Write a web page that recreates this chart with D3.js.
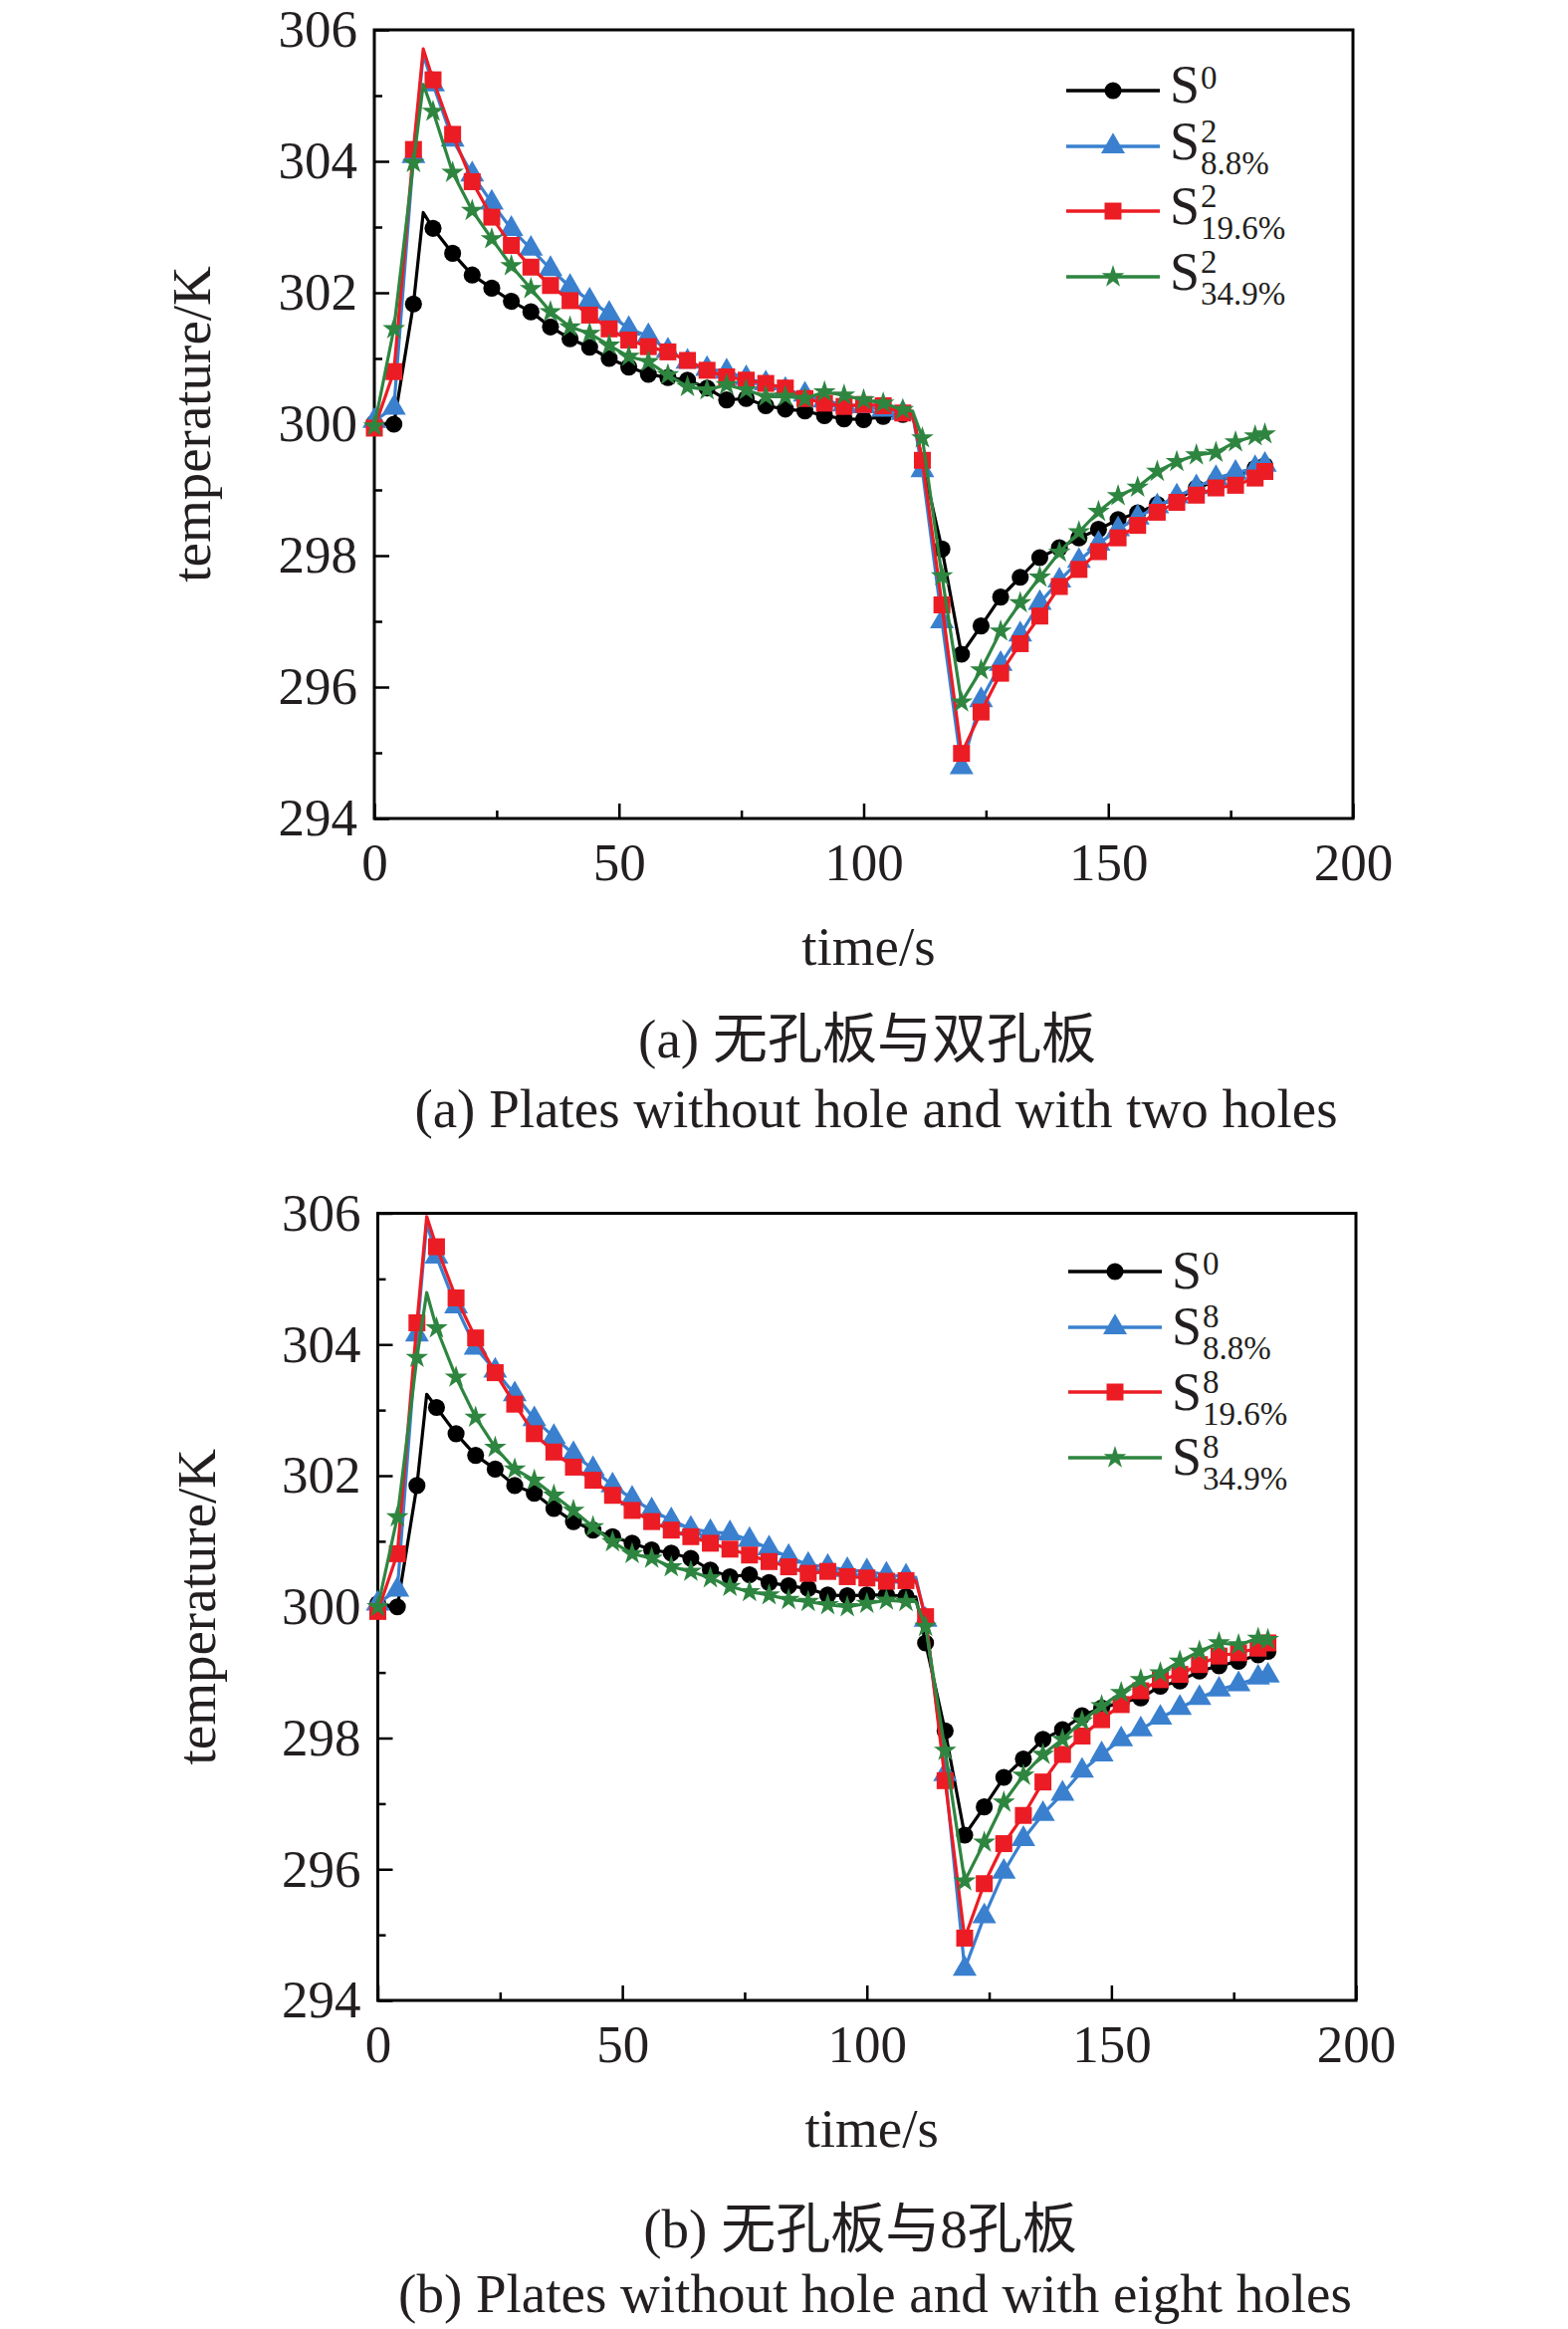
<!DOCTYPE html>
<html>
<head>
<meta charset="utf-8">
<script src="https://cdn.jsdelivr.net/npm/d3@7"></script>
<style>
  body { margin: 0; background: #fff; }
  svg text { font-family: "Liberation Serif", "Times New Roman", "Noto Sans CJK SC", serif; fill: #231f20; }
</style>
</head>
<body>
<svg width="1575" height="2339"></svg>
<script>
// time grid (s); markers sit on the 4 s points and on the last one
var time = [0,4,8,10,12,16,20,24,28,32,36,40,44,48,52,56,60,64,68,72,76,80,84,88,92,96,100,104,108,110,
            112,116,120,124,128,132,136,140,144,148,152,156,160,164,168,172,176,180,182];

// (a) plates without hole / with two holes
var twoHoleS0  = [300.02,300.00,301.83,303.22,302.98,302.60,302.27,302.07,301.87,301.71,301.48,301.30,301.17,301.00,300.87,300.76,300.71,300.67,300.55,300.37,300.39,300.28,300.23,300.20,300.13,300.08,300.07,300.12,300.15,300.16,
                  299.43,298.10,296.50,296.93,297.37,297.67,297.97,298.12,298.27,298.40,298.55,298.65,298.78,298.85,299.03,299.13,299.21,299.33,299.37];
var twoHole88  = [300.05,300.25,304.08,305.62,305.17,304.33,303.80,303.37,302.97,302.67,302.36,302.09,301.88,301.68,301.45,301.34,301.12,300.95,300.84,300.80,300.70,300.62,300.52,300.45,300.36,300.30,300.27,300.22,300.17,300.15,
                  299.30,297.00,294.78,295.80,296.35,296.80,297.28,297.62,297.92,298.18,298.40,298.58,298.75,298.90,299.04,299.18,299.26,299.33,299.38];
var twoHole196 = [299.94,300.80,304.18,305.71,305.24,304.41,303.69,303.15,302.72,302.39,302.11,301.88,301.66,301.45,301.28,301.18,301.10,300.97,300.82,300.72,300.67,300.62,300.55,300.39,300.32,300.27,300.30,300.28,300.17,300.15,
                  299.45,297.25,294.99,295.62,296.21,296.66,297.08,297.53,297.79,298.06,298.27,298.46,298.66,298.81,298.92,299.03,299.07,299.18,299.28];
var twoHole349 = [299.97,301.45,303.98,305.17,304.76,303.83,303.25,302.82,302.41,302.06,301.71,301.48,301.38,301.20,301.03,300.95,300.75,300.57,300.52,300.60,300.52,300.42,300.42,300.39,300.49,300.44,300.37,300.32,300.22,300.20,
                  299.79,297.69,295.77,296.26,296.85,297.28,297.67,298.05,298.36,298.67,298.91,299.04,299.28,299.43,299.53,299.57,299.73,299.82,299.85];

// (b) plates without hole / with eight holes
var eightHoleS0  = [300.05,300.00,301.85,303.24,303.04,302.64,302.31,302.10,301.85,301.73,301.50,301.30,301.17,301.07,300.97,300.87,300.82,300.74,300.56,300.46,300.49,300.37,300.32,300.28,300.18,300.17,300.18,300.18,300.16,300.15,
                    299.45,298.11,296.52,296.95,297.40,297.68,297.98,298.13,298.34,298.46,298.54,298.61,298.79,298.87,299.02,299.10,299.17,299.27,299.32];
var eightHole88  = [300.05,300.26,304.15,305.85,305.34,304.58,303.95,303.60,303.24,302.86,302.59,302.33,302.10,301.85,301.65,301.47,301.32,301.19,301.14,301.12,301.02,300.89,300.76,300.64,300.61,300.56,300.54,300.49,300.46,300.45,
                    299.80,297.45,294.48,295.28,295.96,296.46,296.84,297.15,297.50,297.75,297.98,298.13,298.31,298.46,298.61,298.74,298.82,298.92,298.95];
var eightHole196 = [299.93,300.81,304.33,305.95,305.49,304.71,304.10,303.57,303.09,302.64,302.36,302.13,301.93,301.70,301.47,301.30,301.17,301.07,300.97,300.88,300.79,300.69,300.61,300.51,300.54,300.46,300.44,300.39,300.40,300.40,
                    299.85,297.35,294.95,295.78,296.39,296.82,297.33,297.75,298.03,298.28,298.51,298.72,298.89,298.97,299.12,299.25,299.30,299.37,299.45];
var eightHole349 = [300.00,301.37,303.80,304.79,304.25,303.50,302.89,302.43,302.10,301.93,301.70,301.47,301.22,300.99,300.81,300.74,300.61,300.54,300.44,300.31,300.23,300.18,300.11,300.08,300.03,300.00,300.05,300.10,300.08,300.08,
                    299.70,297.81,295.82,296.41,297.02,297.43,297.75,297.98,298.26,298.49,298.69,298.89,298.99,299.17,299.32,299.45,299.42,299.52,299.50];

var xTicks = [0, 50, 100, 150, 200];
var xMinor = [25, 75, 125, 175];
var yTicks = [294, 296, 298, 300, 302, 304, 306];
var yMinor = [295, 297, 299, 301, 303, 305];
var subLabels = ['', '8.8%', '19.6%', '34.9%'];

var colors = ['#000000', '#3a80cf', '#ec1c24', '#2e8540'];
var symbols = [
  d3.symbol().type(d3.symbolCircle).size(230),
  d3.symbol().type(d3.symbolTriangle).size(250),
  d3.symbol().type(d3.symbolSquare).size(289),
  d3.symbol().type(d3.symbolStar).size(160)
];

var svg = d3.select('svg');

function drawPanel(p) {
  var x = d3.scaleLinear().domain([0, 200]).range([p.left, p.right]);
  var y = d3.scaleLinear().domain([294, 306]).range([p.bottom, p.top]);
  var g = svg.append('g');

  // axes, ticks pointing inward
  g.append('g').attr('transform', 'translate(0,' + p.bottom + ')')
    .call(d3.axisBottom(x).tickValues(xTicks).tickSize(-15).tickPadding(24));
  g.append('g').attr('transform', 'translate(0,' + p.bottom + ')')
    .call(d3.axisBottom(x).tickValues(xMinor).tickSize(-8).tickFormat(''));
  g.append('g').attr('transform', 'translate(' + p.left + ',0)')
    .call(d3.axisLeft(y).tickValues(yTicks).tickSize(-15).tickPadding(17));
  g.append('g').attr('transform', 'translate(' + p.left + ',0)')
    .call(d3.axisLeft(y).tickValues(yMinor).tickSize(-8).tickFormat(''));
  g.selectAll('.domain').remove();
  g.selectAll('.tick line').attr('stroke', '#000').attr('stroke-width', 2.5);
  g.selectAll('.tick text').attr('font-size', 53).attr('fill', '#231f20')
    .style('font-family', '"Liberation Serif","Times New Roman",serif');

  g.append('rect')
    .attr('x', p.left).attr('y', p.top)
    .attr('width', p.right - p.left).attr('height', p.bottom - p.top)
    .attr('fill', 'none').attr('stroke', '#000').attr('stroke-width', 3);

  // series
  var line = d3.line().x(function(d, i) { return x(time[i]); }).y(function(d) { return y(d); });
  p.series.forEach(function(vals, k) {
    var sg = g.append('g');
    sg.append('path').datum(vals)
      .attr('d', line).attr('fill', 'none')
      .attr('stroke', colors[k]).attr('stroke-width', 3.2).attr('stroke-linejoin', 'round');
    sg.selectAll('path.mk')
      .data(vals.map(function(v, i) { return {t: time[i], v: v, i: i}; })
        .filter(function(d) { return d.t % 4 === 0 || d.i === time.length - 1; }))
      .enter().append('path').attr('class', 'mk')
      .attr('d', symbols[k])
      .attr('transform', function(d) { return 'translate(' + x(d.t) + ',' + y(d.v) + ')'; })
      .attr('fill', colors[k]);
  });

  // legend
  p.legendY.forEach(function(ly, k) {
    var lg = g.append('g');
    lg.append('line').attr('x1', p.legX).attr('x2', p.legX + 94).attr('y1', ly).attr('y2', ly)
      .attr('stroke', colors[k]).attr('stroke-width', 3.5);
    lg.append('path').attr('d', symbols[k])
      .attr('transform', 'translate(' + (p.legX + 47) + ',' + ly + ')')
      .attr('fill', colors[k]);
    var base = ly + p.legBase[k];
    lg.append('text').attr('x', p.legX + 104).attr('y', base).attr('font-size', 54).text('S');
    lg.append('text').attr('x', p.legX + 135).attr('y', base - (k === 0 ? 14 : 17))
      .attr('font-size', 33).text(k === 0 ? '0' : p.sup);
    if (k > 0) {
      lg.append('text').attr('x', p.legX + 135).attr('y', base + 15)
        .attr('font-size', 33).text(subLabels[k]);
    }
  });

  // titles and captions
  g.append('text').attr('x', (p.left + p.right) / 2 + 5).attr('y', p.bottom + 147)
    .attr('text-anchor', 'middle').attr('font-size', 55).text('time/s');
  g.append('text')
    .attr('transform', 'translate(' + p.yTitleX + ',' + ((p.top + p.bottom) / 2) + ') rotate(-90)')
    .attr('text-anchor', 'middle').attr('font-size', 55).text('temperature/K');
  g.append('text').attr('x', p.capCnX).attr('y', p.capCnY)
    .attr('text-anchor', 'middle').attr('font-size', 55).text(p.capCn);
  g.append('text').attr('x', p.capEnX).attr('y', p.capEnY)
    .attr('text-anchor', 'middle').attr('font-size', 55).text(p.capEn);
}

drawPanel({
  left: 376, right: 1359, top: 30, bottom: 822,
  series: [twoHoleS0, twoHole88, twoHole196, twoHole349],
  sup: '2',
  legX: 1071, legendY: [91, 147, 212, 278], legBase: [12, 13, 13, 13],
  yTitleX: 211,
  capCn: '(a) 无孔板与双孔板', capCnX: 871, capCnY: 1062,
  capEn: '(a) Plates without hole and with two holes', capEnX: 880, capEnY: 1132
});

drawPanel({
  left: 379.5, right: 1362, top: 1218.5, bottom: 2009,
  series: [eightHoleS0, eightHole88, eightHole196, eightHole349],
  sup: '8',
  legX: 1073, legendY: [1277, 1333, 1398, 1464], legBase: [17, 17, 18, 17],
  yTitleX: 216,
  capCn: '(b) 无孔板与8孔板', capCnX: 864, capCnY: 2257,
  capEn: '(b) Plates without hole and with eight holes', capEnX: 879, capEnY: 2322
});
</script>
</body>
</html>
